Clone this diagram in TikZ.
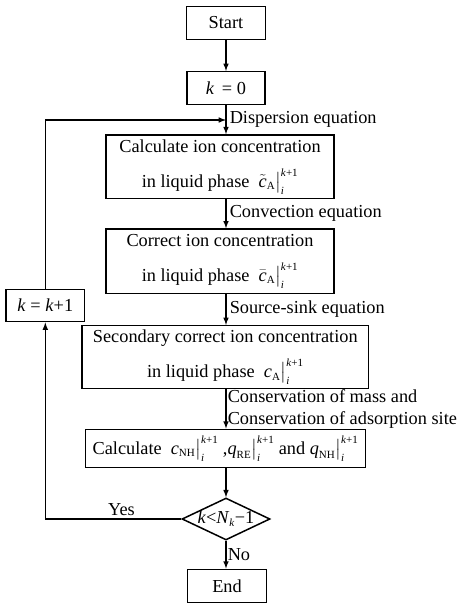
\documentclass[tikz,border=0pt]{standalone}
\usepackage{fix-cm}
\usepackage{amsmath}
\usepackage{fontspec}
\setmainfont{Liberation Serif}
\usetikzlibrary{shapes.geometric}
\tikzset{>=latex}
\tikzset{
  box/.style={draw,line width=1.5pt,inner sep=0pt,align=center,font=\fontsize{18.3}{35}\selectfont},
  decision/.style={draw,diamond,line width=1.5pt,inner sep=0pt,minimum width=88pt,minimum height=42pt},
  note/.style={font=\fontsize{18.3}{22}\selectfont,inner sep=3pt,align=left},
  flow/.style={->,line width=1.5pt}
}
\newcommand{\vi}[1]{\textit{#1}}
\newcommand{\lo}[1]{\mbox{\fontsize{11}{11}\selectfont #1}}
\newcommand{\atstep}[2]{\vi{#1}_{\lo{#2}}\bigr|_{\lo{\vi{i}}}^{\lo{\vi{k}+1}}}

\begin{document}
\begin{tikzpicture}[x=1pt,y=-1pt]
  \useasboundingbox (0,0) rectangle (474,610);
  % boxes
  \node[box,minimum width=78.6pt,minimum height=32.6pt] (start) at (226,23) {Start};
  \node[box,minimum width=78pt,minimum height=32.6pt] (init) at (226,88) {\vi{k}\ \,= 0};
  \node[box,minimum width=228pt,minimum height=63.7pt] (disp) at (220,166.8)
    {Calculate ion concentration\\in liquid phase \ $\tilde{\vi{c}}_{\lo{A}}\bigr|_{\lo{\vi{i}}}^{\lo{\vi{k}+1}}$};
  \node[box,minimum width=228pt,minimum height=64.3pt] (conv) at (220,261.2)
    {Correct ion concentration\\in liquid phase \ $\bar{\vi{c}}_{\lo{A}}\bigr|_{\lo{\vi{i}}}^{\lo{\vi{k}+1}}$};
  \node[box,minimum width=78.7pt,minimum height=32.4pt] (incr) at (45.3,305.5) {\vi{k} = \vi{k}+1};
  \node[box,minimum width=286.7pt,minimum height=62.6pt] (sink) at (225.3,357)
    {Secondary correct ion concentration\\in liquid phase \ $\atstep{c}{A}$};
  \node[box,minimum width=280.4pt,minimum height=38.4pt] (calc) at (225.5,448.5)
    {Calculate \ $\atstep{c}{NH}$\ ,$\atstep{q}{RE}$ and $\atstep{q}{NH}$};
  \node[decision] (test) at (226,519) {};
  \node[font=\fontsize{18.3}{22}\selectfont,inner sep=0pt] (testtxt) at (test) {\vi{k}<\vi{N}$_{\lo{\vi{k}}}$−1};
  \node[box,minimum width=79pt,minimum height=33.4pt] (stop) at (227,586) {End};
  \coordinate (join) at (226,120);
  % arrows
  \draw[flow] (start) -- (init);
  \draw[flow] (init) -- node[note,right] {Dispersion equation} (init |- disp.north);
  \draw[flow] (init |- disp.south) -- node[note,right] {Convection equation} (init |- conv.north);
  \draw[flow] (init |- conv.south) -- node[note,right] {Source-sink equation} (init |- sink.north);
  \draw[flow] (init |- sink.south) -- node[note,right,inner sep=1pt] {Conservation of mass and\\Conservation of adsorption site} (init |- calc.north);
  \draw[flow] (init |- calc.south) -- (test.north);
  \draw[flow] (test.south) -- node[note,right,inner sep=1pt] {No} (test.south |- stop.north);
  % loop back
  \draw[flow] (test.west) -| node[note,above,pos=0.22] {Yes} (incr.south);
  \draw[flow] (incr.north) |- (join);
\end{tikzpicture}
\end{document}
